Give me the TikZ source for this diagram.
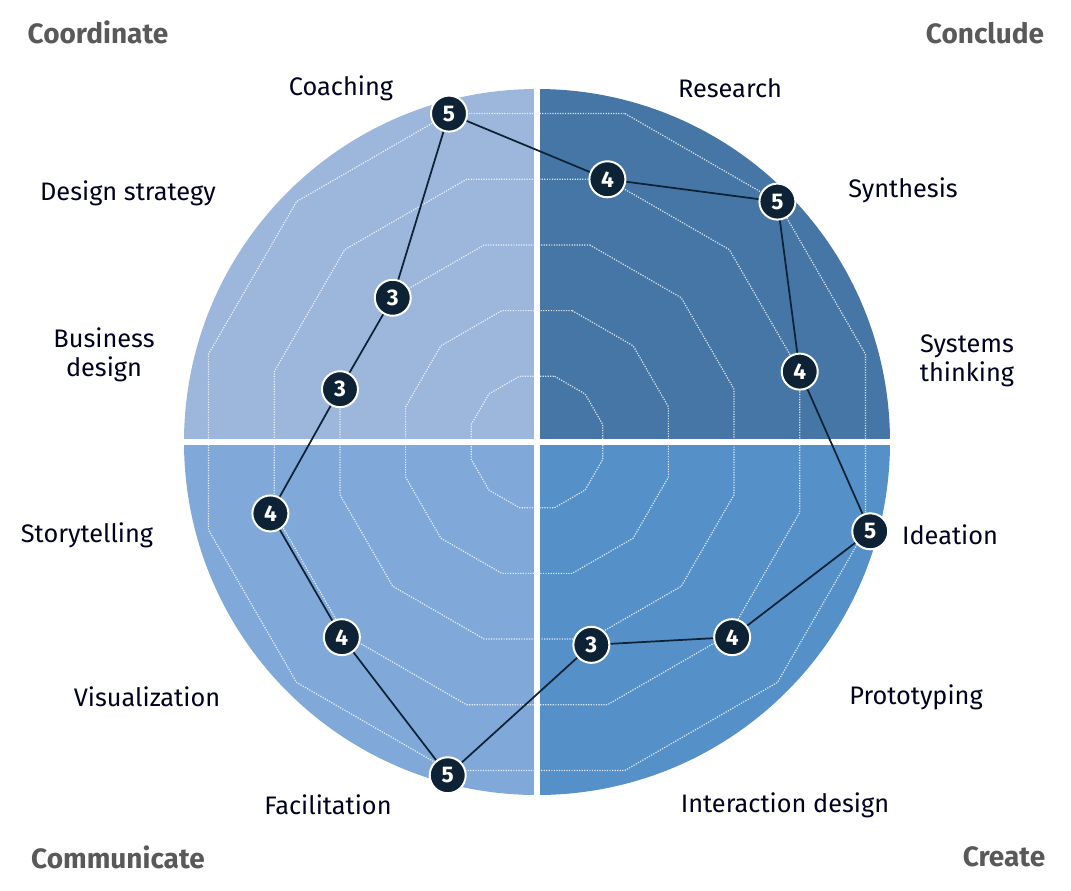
\documentclass[tikz,border=0pt]{standalone}
\usepackage{fontspec}
\setmainfont{Fira Sans}
\usetikzlibrary{calc}
\begin{document}
\begin{tikzpicture}[x=0.75pt,y=-0.75pt,
  lbl/.style={font=\fontsize{19}{22}\selectfont, text=black!80!blue!60!black, align=center},
  corner/.style={font=\fontsize{21}{24}\selectfont\bfseries, text=black!65},
  val/.style={circle, fill=navy, draw=white, line width=1.5pt, minimum size=27pt, inner sep=0pt, text=white, font=\fontsize{17}{18}\selectfont\bfseries},
  ring/.style={draw=white, densely dotted, line width=0.9pt, opacity=0.8}]
\definecolor{navy}{HTML}{0E2236}
\definecolor{qtl}{HTML}{9CB6DC}
\definecolor{qtr}{HTML}{4676A6}
\definecolor{qbl}{HTML}{80A9DA}
\definecolor{qbr}{HTML}{5590C8}
\useasboundingbox (0,0) rectangle (1071,890);
\coordinate (C) at (537,442);
\begin{scope}
\clip (C) circle (353);
\fill[qtl] (C) rectangle ++(-360,-360);
\fill[qtr] (C) rectangle ++(360,-360);
\fill[qbl] (C) rectangle ++(-360,360);
\fill[qbr] (C) rectangle ++(360,360);
\end{scope}
\foreach \k in {1,...,5}{
  \draw[ring] ($(C)+(-75:\k*68)$) \foreach \a in {-45,-15,...,255}{ -- ($(C)+(\a:\k*68)$)} -- cycle;
}
\draw[white,line width=4pt] ($(C)+(-360,0)$) -- ($(C)+(360,0)$);
\draw[white,line width=4pt] ($(C)+(0,-360)$) -- ($(C)+(0,360)$);
\coordinate (p1) at ($(C)+(-75:4*68)$);
\coordinate (p2) at ($(C)+(-45:5*68)$);
\coordinate (p3) at ($(C)+(-15:4*68)$);
\coordinate (p4) at ($(C)+(15:5*69)$);
\coordinate (p5) at ($(C)+(45:4*69)$);
\coordinate (p6) at ($(C)+(75:3*70)$);
\coordinate (p7) at ($(C)+(105:5*69)$);
\coordinate (p8) at ($(C)+(135:4*69)$);
\coordinate (p9) at ($(C)+(165:4*69)$);
\coordinate (p10) at ($(C)+(195:3*68)$);
\coordinate (p11) at ($(C)+(225:3*68)$);
\coordinate (p12) at ($(C)+(255:5*68)$);
\draw[navy, line width=1.3pt] (p1)--(p2)--(p3)--(p4)--(p5)--(p6)--(p7)--(p8)--(p9)--(p10)--(p11)--(p12)--cycle;
\node[val] (n1) at (p1) {4};
\node[val] (n2) at (p2) {5};
\node[val] (n3) at (p3) {4};
\node[val] (n4) at (p4) {5};
\node[val] (n5) at (p5) {4};
\node[val] (n6) at (p6) {3};
\node[val] (n7) at (p7) {5};
\node[val] (n8) at (p8) {4};
\node[val] (n9) at (p9) {4};
\node[val] (n10) at (p10) {3};
\node[val] (n11) at (p11) {3};
\node[val] (n12) at (p12) {5};
\node[lbl] (l1) at (730,88) {Research};
\node[lbl] (l2) at (903,190) {Synthesis};
\node[lbl] (l3) at (967,361) {Systems\\thinking};
\node[lbl] (l4) at (950,535) {Ideation};
\node[lbl] (l5) at (916,697) {Prototyping};
\node[lbl] (l6) at (785,805) {Interaction design};
\node[lbl] (l7) at (328,805) {Facilitation};
\node[lbl] (l8) at (147,697) {Visualization};
\node[lbl] (l9) at (87,535) {Storytelling};
\node[lbl] (l10) at (104,355) {Business\\design};
\node[lbl] (l11) at (128,193) {Design strategy};
\node[lbl] (l12) at (341,88) {Coaching};
\node[corner] (c1) at (98,32) {Coordinate};
\node[corner] (c2) at (985,33) {Conclude};
\node[corner] (c3) at (118,857) {Communicate};
\node[corner] (c4) at (1004,857) {Create};
\end{tikzpicture}
\end{document}
